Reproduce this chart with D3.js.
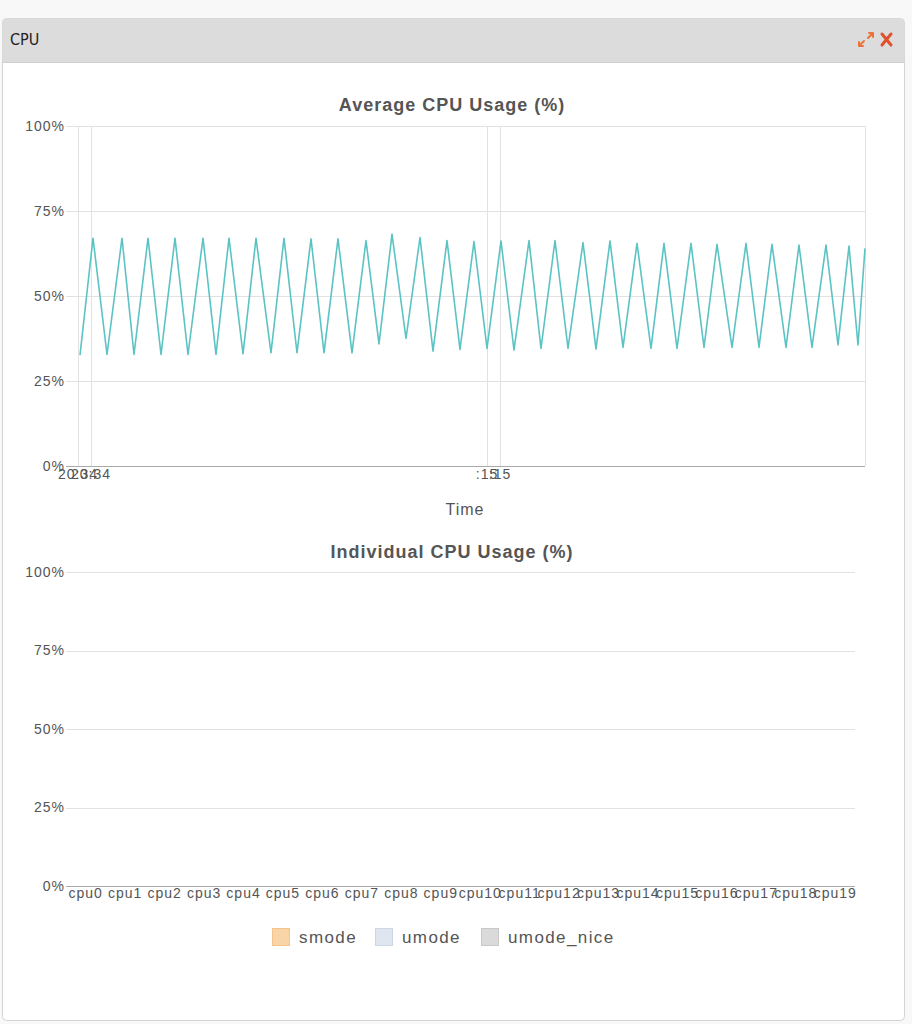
<!DOCTYPE html>
<html>
<head>
<meta charset="utf-8">
<script src="https://cdn.jsdelivr.net/npm/d3@7"></script>
<style>
  body { margin: 0; background: #f8f8f8; }
  svg { display: block; font-family: "Liberation Sans", Arial, sans-serif; }
</style>
</head>
<body>
<svg id="page" width="912" height="1024"></svg>
<script>
// average cpu: vertices of the zig-zag, t = seconds since start, v = percent
const avgTimes = [14, 27, 41, 56, 68, 82, 95, 109, 122, 137, 150, 163, 177, 190, 205, 218, 231, 245, 258,
  272, 286, 300, 313, 326, 340, 354, 367, 381, 394, 408, 421, 435, 448, 463, 475, 489, 502, 517, 530, 544,
  557, 571, 585, 598, 611, 625, 638, 651, 666, 680, 693, 706, 720, 733, 746, 760, 772, 783, 792, 799];
const avgValues = [32.6, 67, 32.8, 67, 32.8, 67, 32.8, 67, 32.8, 67, 32.8, 67, 33, 67, 33.3, 67, 33.3, 66.8, 33.3,
  66.8, 33.3, 66.3, 35.9, 68.2, 37.5, 67.2, 33.8, 66.3, 34.3, 66, 34.6, 66.2, 34.1, 66.3, 34.6, 66.3, 34.6, 65.7, 34.4, 66.2,
  34.9, 65.5, 34.6, 65.5, 34.6, 65.5, 34.9, 65.2, 34.9, 65.5, 34.9, 65.2, 34.9, 65, 34.9, 65, 35.6, 64.7, 35.6, 64];
const timeTicks = [12, 25, 421, 434];
const timeTickLabels = ["20:34", "20:34", ":15", ":15"];

const cpus = d3.range(20).map(i => "cpu" + i);
const modes = ["smode", "umode", "umode_nice"];
const modeColors = ["#f9d4a6", "#dfe6ef", "#dadada"];
const modeStrokes = ["#f4c48a", "#cdd6e2", "#c9c9c9"];
const yTicks = [0, 25, 50, 75, 100];

const svg = d3.select("#page");
const textColor = "#555";

// panel
svg.append("rect").attr("x", 2.5).attr("y", 18.5).attr("width", 902).attr("height", 1002)
  .attr("rx", 4).attr("fill", "#fff").attr("stroke", "#d4d4d4");
svg.append("path").attr("d", "M2.5,62 V22.5 a4,4 0 0 1 4,-4 H900.5 a4,4 0 0 1 4,4 V62 Z")
  .attr("fill", "#dcdcdc");
svg.append("line").attr("x1", 2.5).attr("x2", 904.5).attr("y1", 62.5).attr("y2", 62.5).attr("stroke", "#d0d0d0");
svg.append("text").attr("x", 10).attr("y", 45).text("CPU")
  .style("font-family", "'DejaVu Sans Condensed', 'DejaVu Sans'").style("font-size", "16px").attr("fill", "#222");

// header icons
const icons = svg.append("g").attr("fill", "none").attr("stroke-linecap", "round");
icons.append("path").attr("d", "M859,46 L864,41 M859,46 L859,42 M859,46 L863,46").attr("stroke", "#e8743b").attr("stroke-width", 2);
icons.append("path").attr("d", "M873,33 L868,38 M873,33 L869,33 M873,33 L873,37").attr("stroke", "#e8743b").attr("stroke-width", 2);
icons.append("path").attr("d", "M882,34 L891,45 M891,34 L882,45").attr("stroke", "#e0502a").attr("stroke-width", 3);

function yAxisGrid(g, y, x0, x1) {
  g.selectAll("line.grid").data(yTicks).join("line").attr("class", "grid")
    .attr("x1", x0).attr("x2", x1).attr("y1", d => Math.round(y(d)) + 0.5).attr("y2", d => Math.round(y(d)) + 0.5)
    .attr("stroke", d => d === 0 ? "#aaa" : "#e2e2e2");
  g.selectAll("text.ylab").data(yTicks).join("text").attr("class", "ylab")
    .attr("x", x0 - 1).attr("y", d => y(d)).attr("dy", "0.35em").attr("text-anchor", "end")
    .attr("fill", textColor).style("font-size", "14px").style("letter-spacing", "1px").text(d => d + "%");
}

// ---- Average CPU Usage
const avgG = svg.append("g");
const x = d3.scaleLinear().domain([0, 799]).range([66, 865]);
const y1 = d3.scaleLinear().domain([0, 100]).range([466, 126]);

avgG.append("text").attr("x", 452).attr("y", 111).attr("text-anchor", "middle")
  .attr("fill", textColor).style("font-size", "18px").style("font-weight", "bold")
  .style("letter-spacing", "1px").text("Average CPU Usage (%)");

avgG.selectAll("line.vgrid").data(timeTicks.concat([799])).join("line").attr("class", "vgrid")
  .attr("x1", d => Math.round(x(d)) + 0.5).attr("x2", d => Math.round(x(d)) + 0.5)
  .attr("y1", 126).attr("y2", 466).attr("stroke", "#e2e2e2");
yAxisGrid(avgG, y1, 66, 865);

avgG.selectAll("text.xlab").data(timeTicks).join("text").attr("class", "xlab")
  .attr("x", d => x(d)).attr("y", 479).attr("text-anchor", "middle")
  .attr("fill", textColor).style("font-size", "14px").style("letter-spacing", "1px").text((d, i) => timeTickLabels[i]);

avgG.append("text").attr("x", 465).attr("y", 515).attr("text-anchor", "middle")
  .attr("fill", textColor).style("font-size", "16px").style("letter-spacing", "1px").text("Time");

const avgData = avgTimes.map((t, i) => ({ t, v: avgValues[i] }));
avgG.append("path").datum(avgData)
  .attr("d", d3.line().x(d => x(d.t)).y(d => y1(d.v)))
  .attr("fill", "none").attr("stroke", "#5cc3c4").attr("stroke-width", 1.6).attr("stroke-linejoin", "round");

// ---- Individual CPU Usage
const cpuG = svg.append("g");
const xb = d3.scaleBand().domain(cpus).range([66, 855]);
const y2 = d3.scaleLinear().domain([0, 100]).range([886, 572]);

cpuG.append("text").attr("x", 452).attr("y", 558).attr("text-anchor", "middle")
  .attr("fill", textColor).style("font-size", "18px").style("font-weight", "bold")
  .style("letter-spacing", "1px").text("Individual CPU Usage (%)");
yAxisGrid(cpuG, y2, 66, 855);

cpuG.selectAll("text.xlab").data(cpus).join("text").attr("class", "xlab")
  .attr("x", d => xb(d) + xb.bandwidth() / 2).attr("y", 898).attr("text-anchor", "middle")
  .attr("fill", textColor).style("font-size", "14px").style("letter-spacing", "1px").text(d => d);

// legend
const legendX = [272, 375, 481];
const leg = cpuG.selectAll("g.leg").data(modes).join("g").attr("class", "leg")
  .attr("transform", (d, i) => `translate(${legendX[i]},928)`);
leg.append("rect").attr("x", 0.5).attr("y", 0.5).attr("width", 17).attr("height", 17)
  .attr("fill", (d, i) => modeColors[i]).attr("stroke", (d, i) => modeStrokes[i]);
leg.append("text").attr("x", 27).attr("y", 9).attr("dy", "0.35em")
  .attr("fill", textColor).style("font-size", "17px").style("letter-spacing", "1.4px").text(d => d);
</script>
</body>
</html>
